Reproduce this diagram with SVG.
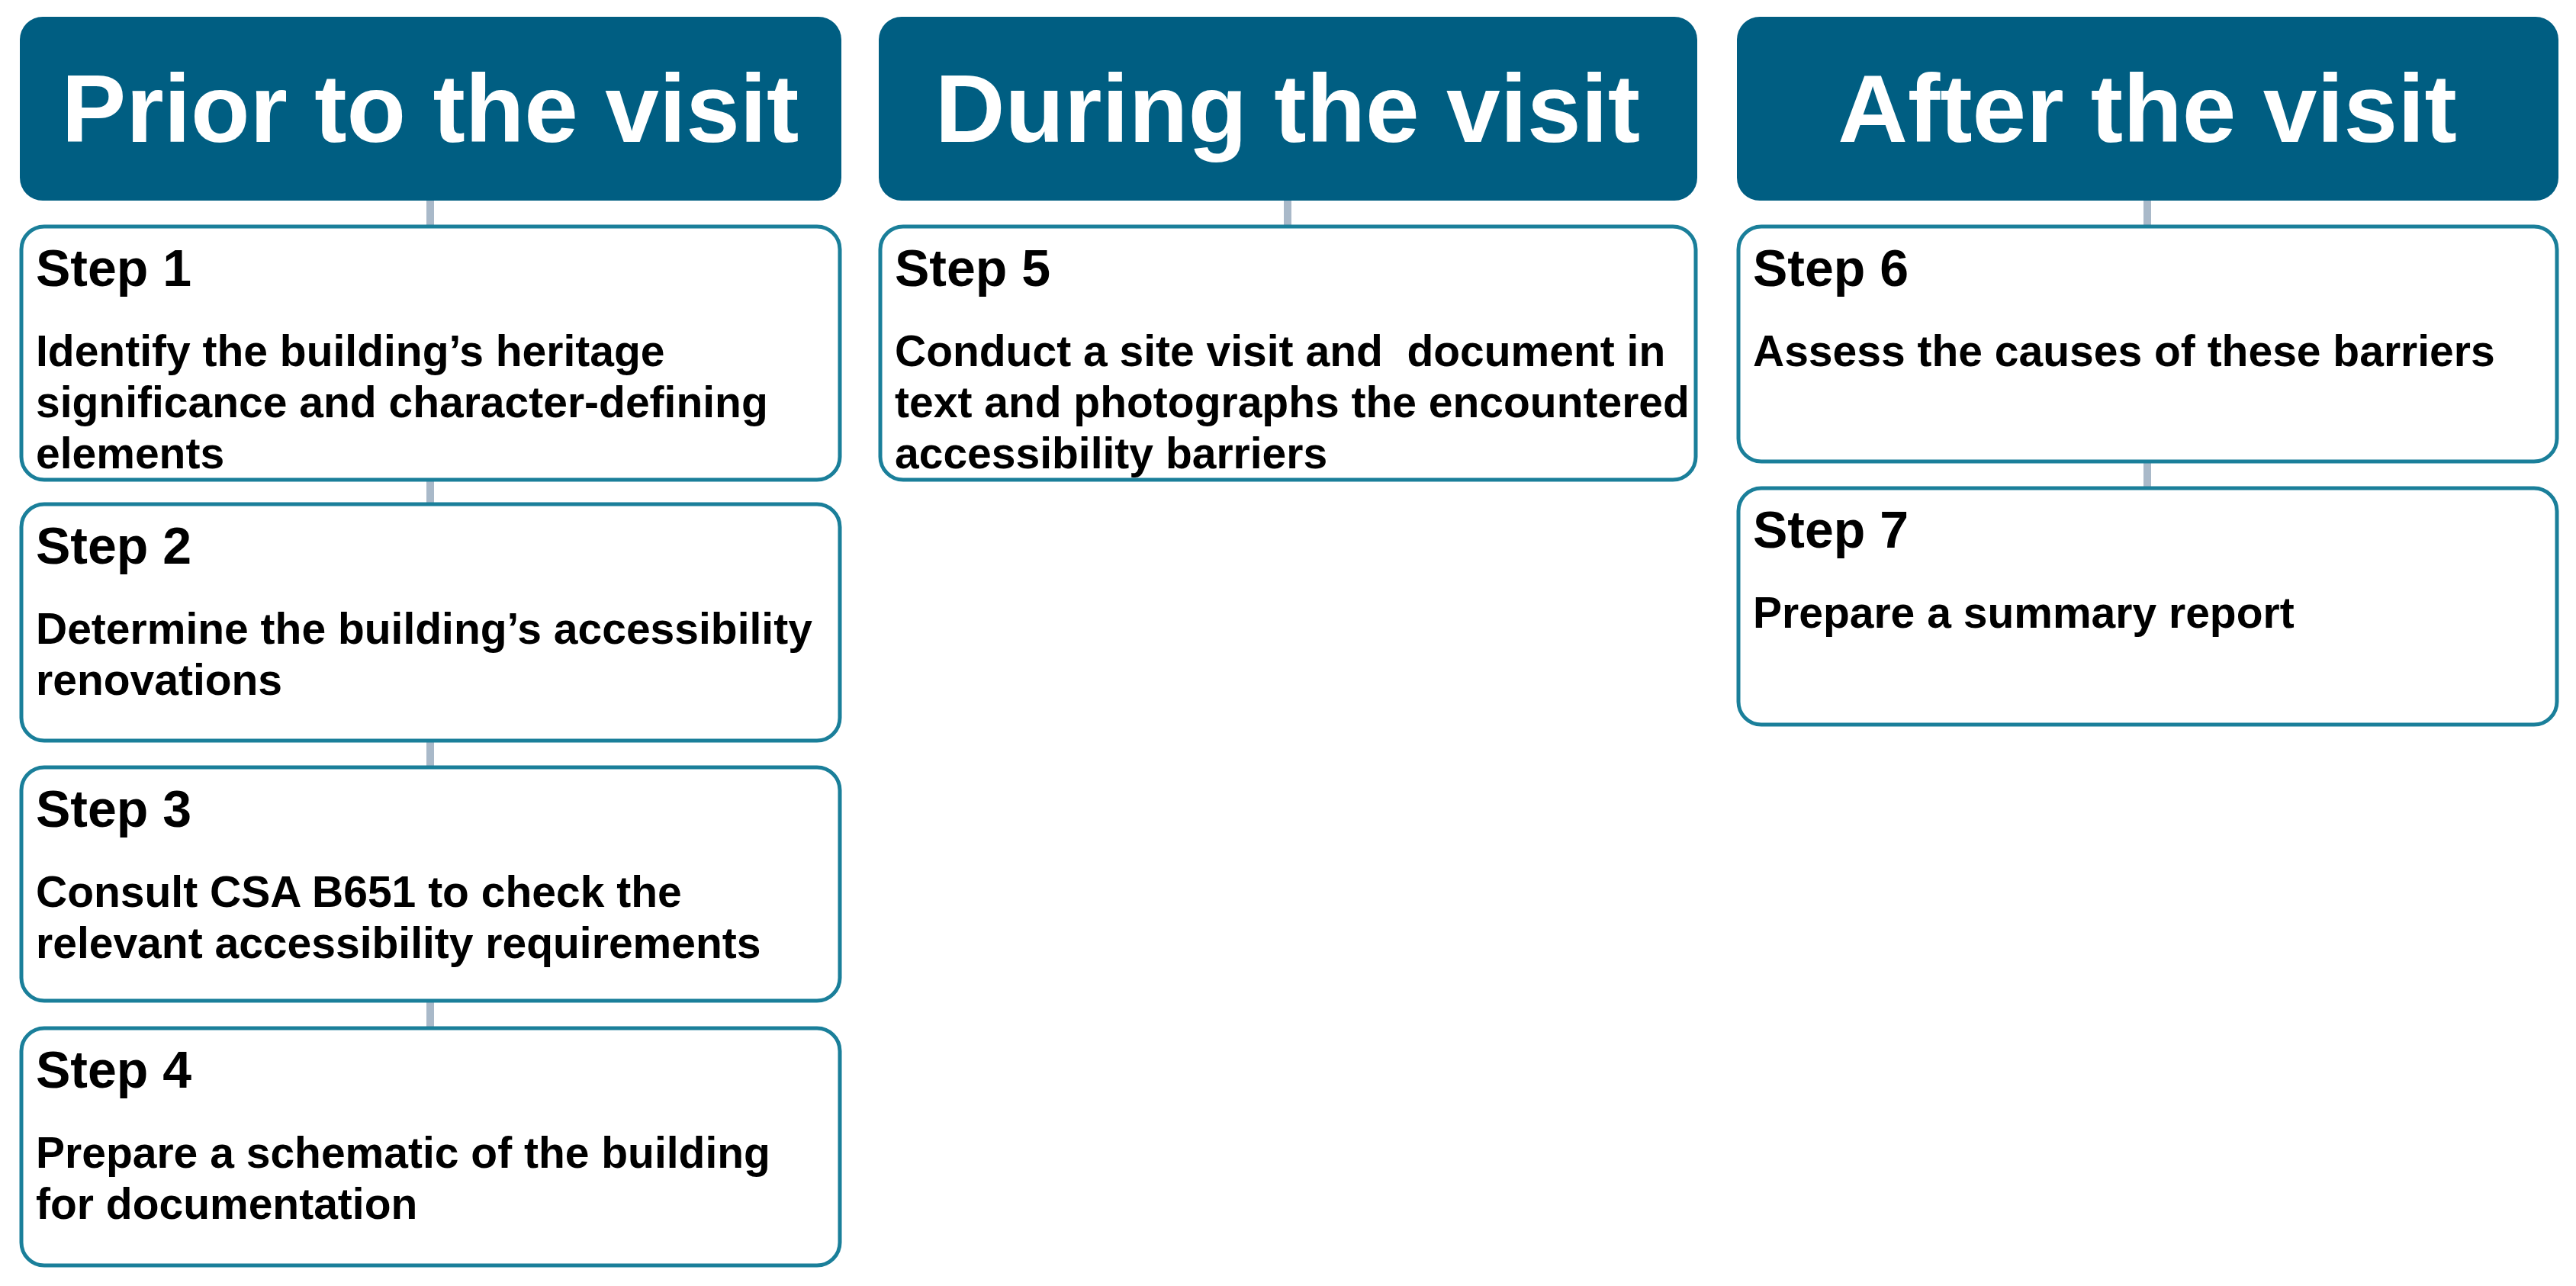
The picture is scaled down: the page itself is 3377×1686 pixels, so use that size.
<svg xmlns="http://www.w3.org/2000/svg" width="3377" height="1686" viewBox="0 0 3377 1686">
<style>
.hd{fill:#005e82}
.ht{fill:#fff;font-family:"Liberation Sans",Arial,sans-serif;font-weight:bold;font-size:127px;text-anchor:middle}
.bx{fill:#fff;stroke:#1a7f9a;stroke-width:5}
.st{fill:#000;font-family:"Liberation Sans",Arial,sans-serif;font-weight:bold;font-size:68px}
.tx{fill:#000;font-family:"Liberation Sans",Arial,sans-serif;font-weight:bold;font-size:57px}
.cn{stroke:#a9b9c9;stroke-width:10;fill:none}
</style>
<rect width="3377" height="1686" fill="#fff"/>
<g id="connectors">
<line class="cn" x1="564" y1="263" x2="564" y2="297"/>
<line class="cn" x1="564" y1="629" x2="564" y2="661"/>
<line class="cn" x1="564" y1="971" x2="564" y2="1006"/>
<line class="cn" x1="564" y1="1312" x2="564" y2="1348"/>
<line class="cn" x1="1688" y1="263" x2="1688" y2="297"/>
<line class="cn" x1="2815" y1="263" x2="2815" y2="297"/>
<line class="cn" x1="2815" y1="605" x2="2815" y2="640"/>
</g>
<g id="h1"><rect class="hd" x="26" y="22" width="1077" height="241" rx="30"/><text class="ht" x="564" y="186">Prior to the visit</text></g>
<g id="h2"><rect class="hd" x="1152" y="22" width="1073" height="241" rx="30"/><text class="ht" x="1688" y="186">During the visit</text></g>
<g id="h3"><rect class="hd" x="2277" y="22" width="1077" height="241" rx="30"/><text class="ht" x="2815" y="186">After the visit</text></g>
<g id="s1"><rect class="bx" x="28" y="297" width="1073" height="332" rx="30"/><text class="st" x="47" y="375">Step 1</text><text class="tx" x="47" y="480">Identify the building’s heritage</text><text class="tx" x="47" y="547">significance and character-defining</text><text class="tx" x="47" y="614">elements</text></g>
<g id="s2"><rect class="bx" x="28" y="661" width="1073" height="310" rx="30"/><text class="st" x="47" y="739">Step 2</text><text class="tx" x="47" y="844">Determine the building’s accessibility</text><text class="tx" x="47" y="911">renovations</text></g>
<g id="s3"><rect class="bx" x="28" y="1006" width="1073" height="306" rx="30"/><text class="st" x="47" y="1084">Step 3</text><text class="tx" x="47" y="1189">Consult CSA B651 to check the</text><text class="tx" x="47" y="1256">relevant accessibility requirements</text></g>
<g id="s4"><rect class="bx" x="28" y="1348" width="1073" height="311" rx="30"/><text class="st" x="47" y="1426">Step 4</text><text class="tx" x="47" y="1531">Prepare a schematic of the building</text><text class="tx" x="47" y="1598">for documentation</text></g>
<g id="s5"><rect class="bx" x="1154" y="297" width="1069" height="332" rx="30"/><text class="st" x="1173" y="375">Step 5</text><text class="tx" x="1173" y="480" xml:space="preserve">Conduct a site visit and  document in</text><text class="tx" x="1173" y="547">text and photographs the encountered</text><text class="tx" x="1173" y="614">accessibility barriers</text></g>
<g id="s6"><rect class="bx" x="2279" y="297" width="1073" height="308" rx="30"/><text class="st" x="2298" y="375">Step 6</text><text class="tx" x="2298" y="480">Assess the causes of these barriers</text></g>
<g id="s7"><rect class="bx" x="2279" y="640" width="1073" height="310" rx="30"/><text class="st" x="2298" y="718">Step 7</text><text class="tx" x="2298" y="823">Prepare a summary report</text></g>
</svg>
